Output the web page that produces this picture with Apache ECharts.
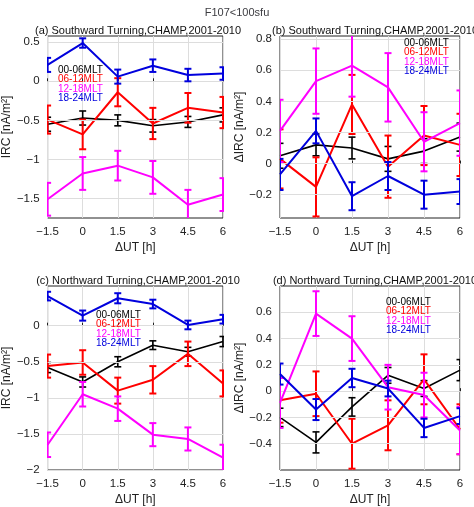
<!DOCTYPE html>
<html>
<head>
<meta charset="utf-8">
<script src="https://cdn.jsdelivr.net/npm/echarts@6/dist/echarts.min.js"></script>
<style>html,body{margin:0;background:#fff}#c{width:474px;height:507px}</style>
</head>
<body>
<div id="c"></div>
<script>
const xs = [-1.5, 0, 1.5, 3, 4.5, 6];
const mltNames = ['00-06MLT', '06-12MLT', '12-18MLT', '18-24MLT'];
const colors = ['#000000', '#ff0000', '#ff00ff', '#0000dd'];

// panel (a) IRC, southward
const aVal = [
  [-0.55, -0.47, -0.50, -0.57, -0.52, -0.43],
  [-0.49, -0.68, -0.14, -0.54, -0.34, -0.40],
  [-1.51, -1.18, -1.08, -1.23, -1.58, -1.45],
  [0.21, 0.49, 0.06, 0.20, 0.08, 0.10]
];
const aErr = [
  [0.09, 0.09, 0.07, 0.08, 0.07, 0.09],
  [0.18, 0.19, 0.18, 0.20, 0.19, 0.20],
  [0.21, 0.21, 0.19, 0.21, 0.19, 0.21],
  [0.09, 0.06, 0.09, 0.08, 0.08, 0.08]
];
// panel (b) dIRC, southward
const bVal = [
  [0.05, 0.12, 0.10, 0.03, 0.08, 0.17],
  [0.03, -0.15, 0.38, -0.02, 0.18, 0.12],
  [0.21, 0.53, 0.63, 0.49, 0.14, 0.26],
  [-0.07, 0.21, -0.21, -0.08, -0.20, -0.18]
];
const bErr = [
  [0.08, 0.07, 0.07, 0.08, 0.08, 0.09],
  [0.19, 0.19, 0.19, 0.20, 0.19, 0.20],
  [0.20, 0.21, 0.20, 0.22, 0.19, 0.21],
  [0.10, 0.08, 0.09, 0.09, 0.09, 0.08]
];
// panel (c) IRC, northward
const cVal = [
  [-0.58, -0.78, -0.50, -0.27, -0.36, -0.22],
  [-0.56, -0.51, -0.90, -0.75, -0.39, -0.80],
  [-1.65, -0.95, -1.15, -1.51, -1.57, -1.83],
  [0.41, 0.14, 0.38, 0.30, 0.01, 0.09]
];
const cErr = [
  [0.07, 0.07, 0.07, 0.06, 0.06, 0.07],
  [0.16, 0.17, 0.18, 0.19, 0.17, 0.18],
  [0.17, 0.17, 0.17, 0.16, 0.16, 0.18],
  [0.06, 0.07, 0.07, 0.06, 0.06, 0.06]
];
// panel (d) dIRC, northward
const dVal = [
  [-0.20, -0.39, -0.12, 0.12, 0.02, 0.16],
  [-0.07, -0.02, -0.40, -0.26, 0.09, -0.29],
  [-0.09, 0.59, 0.40, 0.03, -0.03, -0.30],
  [0.13, -0.14, 0.10, 0.02, -0.28, -0.19]
];
const dErr = [
  [0.07, 0.08, 0.07, 0.06, 0.06, 0.08],
  [0.17, 0.17, 0.19, 0.19, 0.19, 0.19],
  [0.19, 0.17, 0.17, 0.17, 0.17, 0.18],
  [0.08, 0.08, 0.07, 0.06, 0.07, 0.06]
];

const aTicks = [-1.5, -1, -0.5, 0, 0.5];
const bTicks = [-0.2, 0, 0.2, 0.4, 0.6, 0.8];
const cTicks = [-2, -1.5, -1, -0.5, 0];
const dTicks = [-0.4, -0.2, 0, 0.2, 0.4, 0.6];

const panels = [
  { title: '(a) Southward Turning,CHAMP,2001-2010', yName: 'IRC [nA/m²]', val: aVal, err: aErr, ticks: aTicks, min: -1.75, max: 0.58,
    grid: { left: 43, top: 36, right: 251, height: 182 }, leg: [58, 70] },
  { title: '(b) Southward Turning,CHAMP,2001-2010', yName: 'ΔIRC [nA/m²]', val: bVal, err: bErr, ticks: bTicks, min: -0.35, max: 0.82,
    grid: { left: 280, top: 36, right: 14, height: 182 }, leg: [404, 43] },
  { title: '(c) Northward Turning,CHAMP,2001-2010', yName: 'IRC [nA/m²]', val: cVal, err: cErr, ticks: cTicks, min: -2, max: 0.55,
    grid: { left: 43, top: 286, right: 251, height: 187 }, leg: [96, 315] },
  { title: '(d) Northward Turning,CHAMP,2001-2010', yName: 'ΔIRC [nA/m²]', val: dVal, err: dErr, ticks: dTicks, min: -0.6, max: 0.8,
    grid: { left: 280, top: 286, right: 14, height: 187 }, leg: [386, 302] }
];

const fmt = v => (v < 0 ? '−' + String(-v) : String(v));
const near = (v, list) => list.some(t => Math.abs(t - v) < 1e-6);

const option = { animation: false, grid: [], xAxis: [], yAxis: [], series: [], graphic: [], title: [] };
option.title.push({ text: 'F107<100sfu', left: 'center', top: 2, textStyle: { fontSize: 11, fontWeight: 'normal', fontFamily: 'Liberation Sans' } });

panels.forEach((p, i) => {
  option.grid.push(Object.assign({ show: true, borderColor: '#222', borderWidth: 1, backgroundColor: '#fff' }, p.grid));
  option.title.push({ text: p.title, left: p.grid.left + 90, textAlign: 'center', top: p.grid.top - 16,
    textStyle: { fontSize: 11, fontWeight: 'normal', color: '#111', fontFamily: 'Liberation Sans' } });
  option.xAxis.push({ type: 'value', gridIndex: i, min: -1.5, max: 6, interval: 1.5,
    name: 'ΔUT [h]', nameLocation: 'middle', nameGap: 24, nameTextStyle: { fontSize: 12, color: '#222' },
    axisLine: { show: false }, axisTick: { inside: true, length: 3, lineStyle: { color: '#222' } },
    splitLine: { lineStyle: { color: '#ddd' } },
    axisLabel: { fontSize: 11.5, color: '#222', formatter: fmt } });
  option.yAxis.push({ type: 'value', gridIndex: i, min: p.min, max: p.max, interval: 0.05,
    name: p.yName, nameLocation: 'middle', nameGap: 29, nameTextStyle: { fontSize: 12, color: '#222' },
    axisLine: { show: false }, axisTick: { show: false }, splitLine: { show: false },
    axisLabel: { fontSize: 11.5, color: '#222', showMinLabel: true, showMaxLabel: true,
      formatter: v => near(v, p.ticks) ? fmt(Math.round(v * 10) / 10) : '' } });
  // grid lines at y ticks
  option.series.push({ type: 'line', xAxisIndex: i, yAxisIndex: i, data: [], silent: true,
    markLine: { silent: true, symbol: 'none', label: { show: false }, lineStyle: { color: '#ddd', type: 'solid', width: 1 },
      data: p.ticks.map(t => ({ yAxis: t })) } });
  p.val.forEach((vals, k) => {
    option.series.push({ type: 'line', xAxisIndex: i, yAxisIndex: i, data: xs.map((x, j) => [x, vals[j]]),
      symbol: 'none', lineStyle: { color: colors[k], width: k === 0 ? 1.6 : 2 }, z: 3 + k });
    option.series.push({ type: 'custom', xAxisIndex: i, yAxisIndex: i, z: 3 + k,
      data: xs.map((x, j) => [x, vals[j] - p.err[k][j], vals[j] + p.err[k][j]]),
      clip: true,
      renderItem: (params, api) => {
        const lo = api.coord([api.value(0), api.value(1)]);
        const hi = api.coord([api.value(0), api.value(2)]);
        const w = 3.5;
        const st = { stroke: colors[k], lineWidth: k === 0 ? 1.6 : 2 };
        return { type: 'group', children: [
          { type: 'line', shape: { x1: lo[0], y1: lo[1], x2: hi[0], y2: hi[1] }, style: st },
          { type: 'line', shape: { x1: lo[0] - w, y1: lo[1], x2: lo[0] + w, y2: lo[1] }, style: st },
          { type: 'line', shape: { x1: hi[0] - w, y1: hi[1], x2: hi[0] + w, y2: hi[1] }, style: st }
        ] };
      } });
  });
  mltNames.forEach((n, k) => {
    option.graphic.push({ type: 'text', left: p.leg[0], top: p.leg[1] + k * 9.5 - 5, z: 100,
      style: { text: n, fill: colors[k], fontSize: 10, fontFamily: 'Liberation Sans' } });
  });
});

echarts.init(document.getElementById('c')).setOption(option);
</script>
</body>
</html>
